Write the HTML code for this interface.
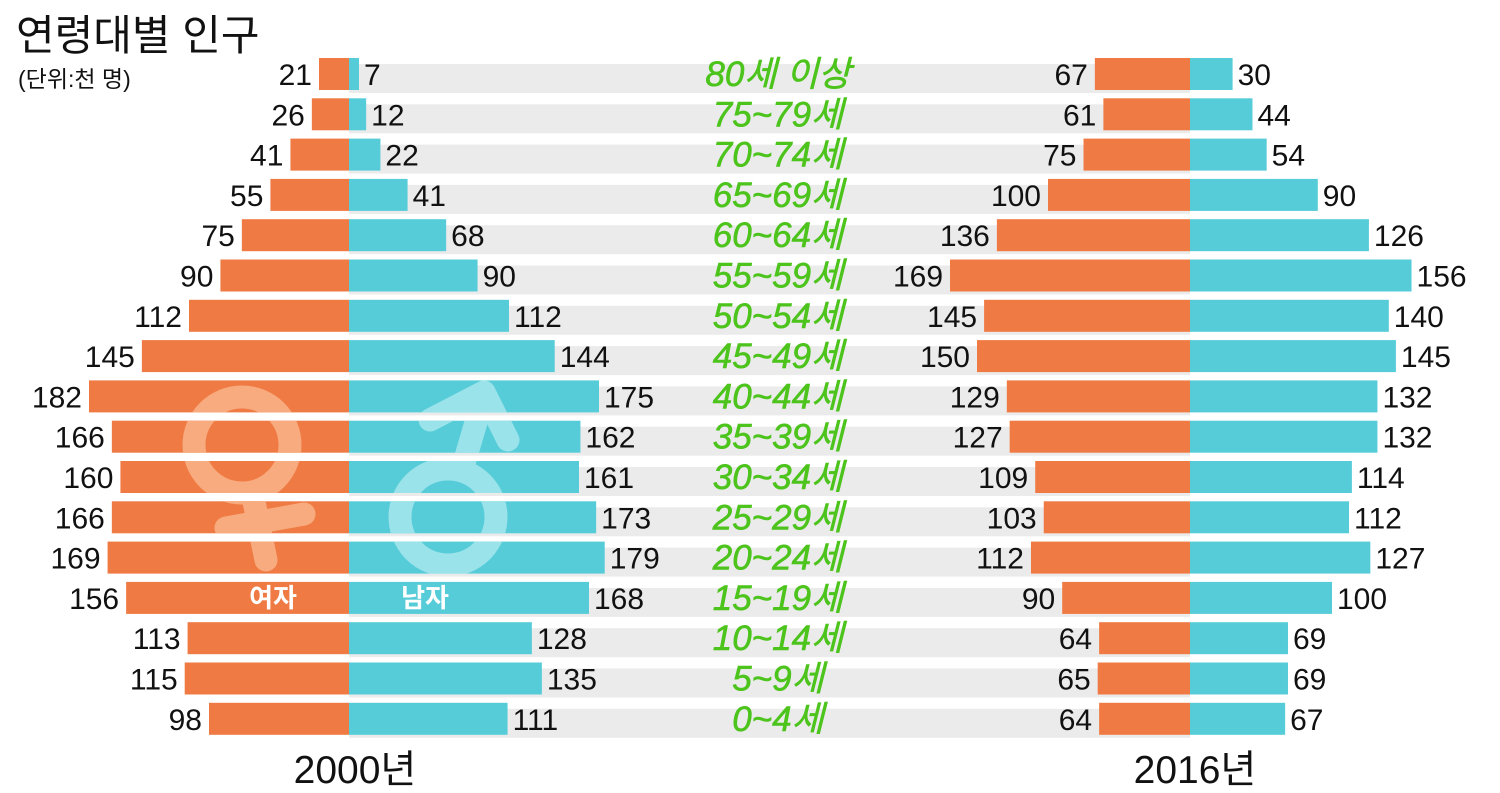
<!DOCTYPE html>
<html><head><meta charset="utf-8"><style>
html,body{margin:0;padding:0;background:#fff;}
svg{display:block;}
text{font-family:"Liberation Sans","Noto Sans CJK KR",sans-serif;}
</style></head><body>
<svg width="1500" height="793" viewBox="0 0 1500 793" xmlns="http://www.w3.org/2000/svg">
<text x="16" y="50" font-size="42" fill="#111">연령대별 인구</text>
<text x="18" y="87" font-size="23" fill="#111">(단위:천 명)</text>
<g id="g"></g>
<text x="355" y="783" font-size="39" text-anchor="middle" fill="#111">2000년</text>
<text x="1195" y="783" font-size="39" text-anchor="middle" fill="#111">2016년</text>
</svg>
<script>
var labels=["80세 이상","75~79세","70~74세","65~69세","60~64세","55~59세","50~54세","45~49세","40~44세","35~39세","30~34세","25~29세","20~24세","15~19세","10~14세","5~9세","0~4세"];
var f0=[21,26,41,55,75,90,112,145,182,166,160,166,169,156,113,115,98];
var m0=[7,12,22,41,68,90,112,144,175,162,161,173,179,168,128,135,111];
var f1=[67,61,75,100,136,169,145,150,129,127,109,103,112,90,64,65,64];
var m1=[30,44,54,90,126,156,140,145,132,132,114,112,127,100,69,69,67];
var g=document.getElementById("g");
var s="";
var fc="",mc="";
for(var i=0;i<17;i++){
 var t=58+i*40.3, h=32, cy=t+h/2, ty=cy+11;
 s+='<rect x="349" y="'+(t+6)+'" width="841" height="29" fill="#ebebeb"/>';
 var a=1.4286, wf=f0[i]*a, wm=m0[i]*a;
 s+='<rect x="'+(349-wf)+'" y="'+t+'" width="'+wf+'" height="'+h+'" fill="#f07a43"/>';
 s+='<rect x="349" y="'+t+'" width="'+wm+'" height="'+h+'" fill="#56ccd8"/>';
 fc+='<rect x="'+(349-wf)+'" y="'+t+'" width="'+wf+'" height="'+h+'"/>';
 mc+='<rect x="349" y="'+t+'" width="'+wm+'" height="'+h+'"/>';
 s+='<text x="'+(349-wf-7)+'" y="'+ty+'" font-size="30" text-anchor="end" fill="#111">'+f0[i]+'</text>';
 s+='<text x="'+(349+wm+5)+'" y="'+ty+'" font-size="30" fill="#111">'+m0[i]+'</text>';
 var b=1.42, wf1=f1[i]*b, wm1=m1[i]*b;
 s+='<rect x="'+(1190-wf1)+'" y="'+t+'" width="'+wf1+'" height="'+h+'" fill="#f07a43"/>';
 s+='<rect x="1190" y="'+t+'" width="'+wm1+'" height="'+h+'" fill="#56ccd8"/>';
 s+='<text x="'+(1190-wf1-7)+'" y="'+ty+'" font-size="30" text-anchor="end" fill="#111">'+f1[i]+'</text>';
 s+='<text x="'+(1190+wm1+5)+'" y="'+ty+'" font-size="30" fill="#111">'+m1[i]+'</text>';
 s+='<text x="778" y="'+(cy+12)+'" font-size="35" font-style="italic" text-anchor="middle" fill="#4cc41c" stroke="#4cc41c" stroke-width="0.6">'+labels[i]+'</text>';
}
s+='<clipPath id="cf">'+fc+'</clipPath><clipPath id="cm">'+mc+'</clipPath>';
s+='<g clip-path="url(#cf)" stroke="#f7ab7e" stroke-width="23" fill="none" stroke-linecap="round"><circle cx="242" cy="445" r="48"/><line x1="252" y1="492" x2="266" y2="560"/><line x1="226" y1="528" x2="304" y2="514"/></g>';
s+='<g clip-path="url(#cm)" stroke="#9ae3ea" stroke-width="23" fill="none" stroke-linecap="round" stroke-linejoin="round"><circle cx="448" cy="517" r="48"/><line x1="462" y1="470" x2="484" y2="395"/><polyline points="430,420 484,392 508,440"/></g>';
s+='<text x="273" y="607" font-size="26" font-weight="bold" text-anchor="middle" fill="#fff">여자</text>';
s+='<text x="425" y="607" font-size="26" font-weight="bold" text-anchor="middle" fill="#fff">남자</text>';
g.innerHTML=s;
</script>
</body></html>
